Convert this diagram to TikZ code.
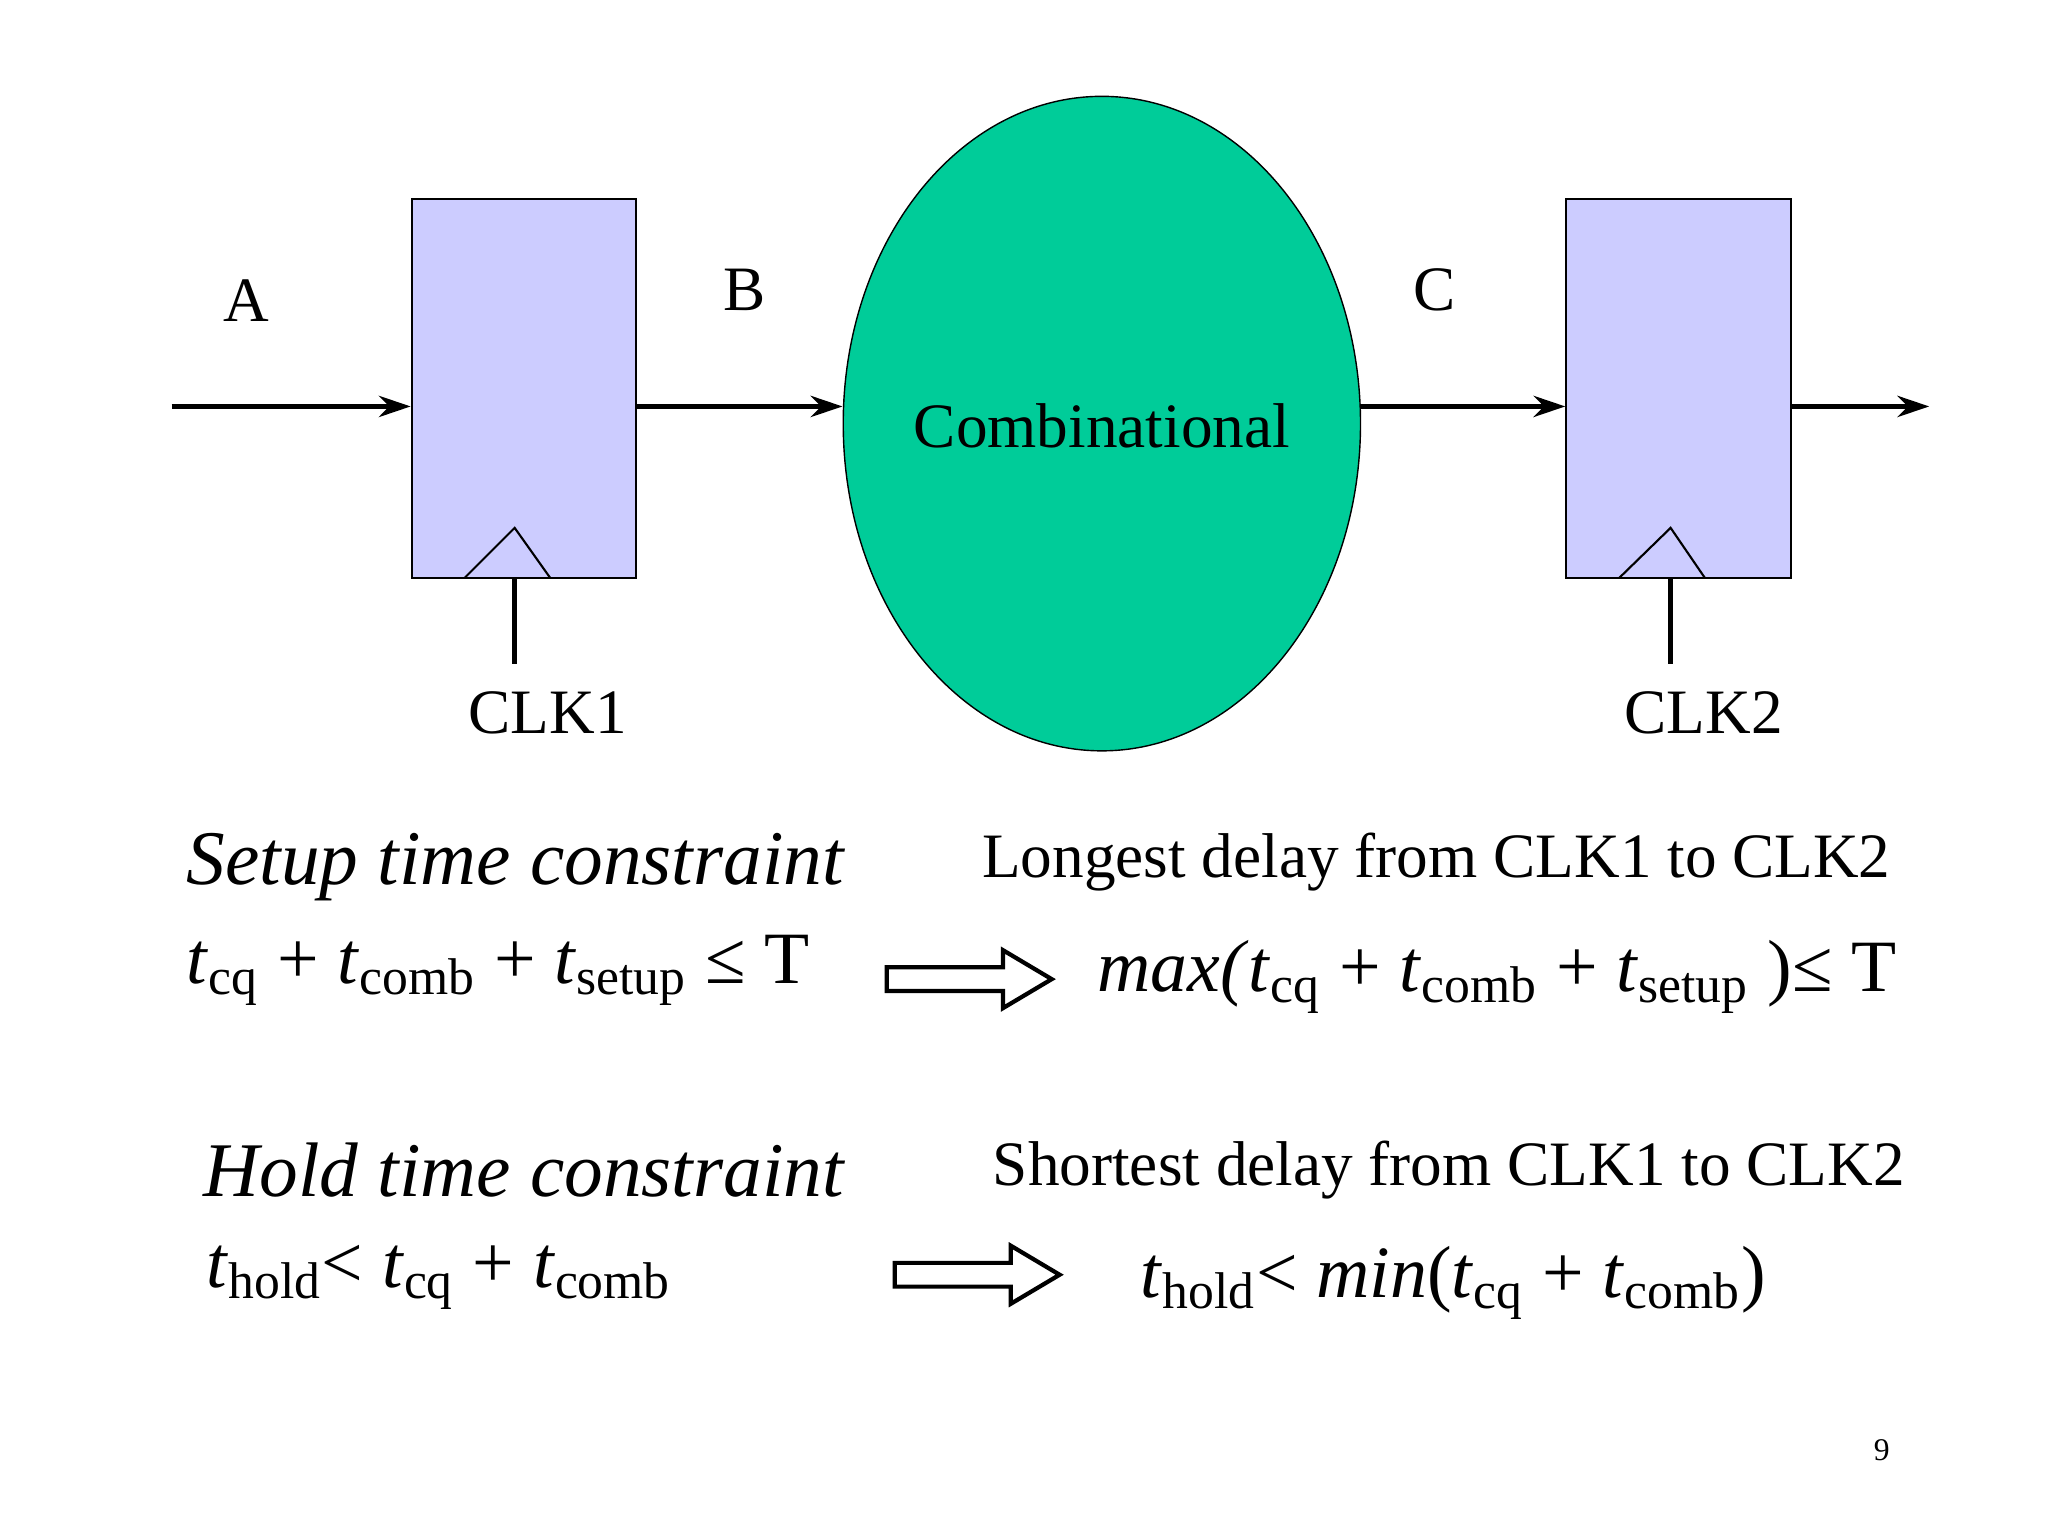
\documentclass[tikz,border=0pt]{standalone}
\usepackage{fontspec}
\setmainfont{Liberation Serif}
\usetikzlibrary{arrows.meta,shapes.geometric}
\definecolor{ff}{RGB}{204,204,255}
\definecolor{comb}{RGB}{0,204,153}
\newcommand{\tsub}[1]{\textit{t}\textsubscript{#1}}
\begin{document}
\begin{tikzpicture}[x=0.0132cm,y=-0.0132cm,
  lbl/.style={font=\fontsize{18}{22}\selectfont},
  eq/.style={font=\fontsize{21}{26}\selectfont,anchor=west},
  sig/.style={line width=1.5pt,-{Stealth[length=9pt,width=6pt]}},
  ffbox/.style={draw,fill=ff,line width=0.6pt},
  dbl/.style={draw,line width=1.2pt,fill=white}]
\useasboundingbox (0,0) rectangle (1552,1164);
\node[ffbox,minimum width=170*0.0132cm,minimum height=287*0.0132cm,inner sep=0] (f1) at (397,294.5) {};
\node[ffbox,minimum width=170*0.0132cm,minimum height=287*0.0132cm,inner sep=0] (f2) at (1272,294.5) {};
\node[ellipse,draw,fill=comb,minimum width=392*0.0132cm,minimum height=496*0.0132cm,inner sep=0] (c) at (835,321) {};
\node[lbl] (ct) at (835,323) {Combinational};
\draw[line width=0.6pt] (352,438) -- (390,400) -- (417,438);
\draw[line width=0.6pt] (1227,438) -- (1266,400) -- (1292,438);
\coordinate (a0) at (130,308);
\coordinate (d0) at (1462,308);
\coordinate (k1) at (390,503);
\coordinate (k2) at (1266,503);
\draw[sig] (a0) -- (f1.west|-a0);
\draw[sig] (f1.east|-a0) -- (c.west|-a0);
\draw[sig] (c.east|-a0) -- (f2.west|-a0);
\draw[sig] (f2.east|-a0) -- (d0);
\draw[line width=1.5pt] (f1.south-|k1) -- (k1);
\draw[line width=1.5pt] (f2.south-|k2) -- (k2);
\node[lbl] (la) at (187,228) {A};
\node[lbl] (lb) at (564,220) {B};
\node[lbl] (lc) at (1087,220) {C};
\node[lbl] (l1) at (415,540) {CLK1};
\node[lbl] (l2) at (1291,540) {CLK2};
\node[eq,font=\fontsize{22}{26}\selectfont\itshape] (s1) at (132,657) {Setup time constraint};
\node[lbl,anchor=west] (s2) at (735,653) {Longest delay from CLK1 to CLK2};
\node[eq] (s3) at (132,735) {\tsub{cq} + \tsub{comb} + \tsub{setup} ≤ T};
\node[eq] (s4) at (822,740) {\textit{max(}\tsub{cq} + \tsub{comb} + \tsub{setup} )≤ T};
\node[eq,font=\fontsize{22}{26}\selectfont\itshape] (h1) at (145,887) {Hold time constraint};
\node[lbl,anchor=west] (h2) at (743,887) {Shortest delay from CLK1 to CLK2};
\node[eq] (h3) at (147,968) {\tsub{hold}< \tsub{cq} + \tsub{comb}};
\node[eq] (h4) at (855,972) {\tsub{hold}< \textit{min}(\tsub{cq} + \tsub{comb})};
\draw[dbl] (672,733) -- (760,733) -- (760,720) -- (797,742) -- (760,764) -- (760,751) -- (672,751) -- cycle;
\draw[dbl] (678,957) -- (766,957) -- (766,944) -- (803,966) -- (766,988) -- (766,975) -- (678,975) -- cycle;
\node[font=\fontsize{9}{11}\selectfont] (pg) at (1426,1099) {9};
\end{tikzpicture}
\end{document}
